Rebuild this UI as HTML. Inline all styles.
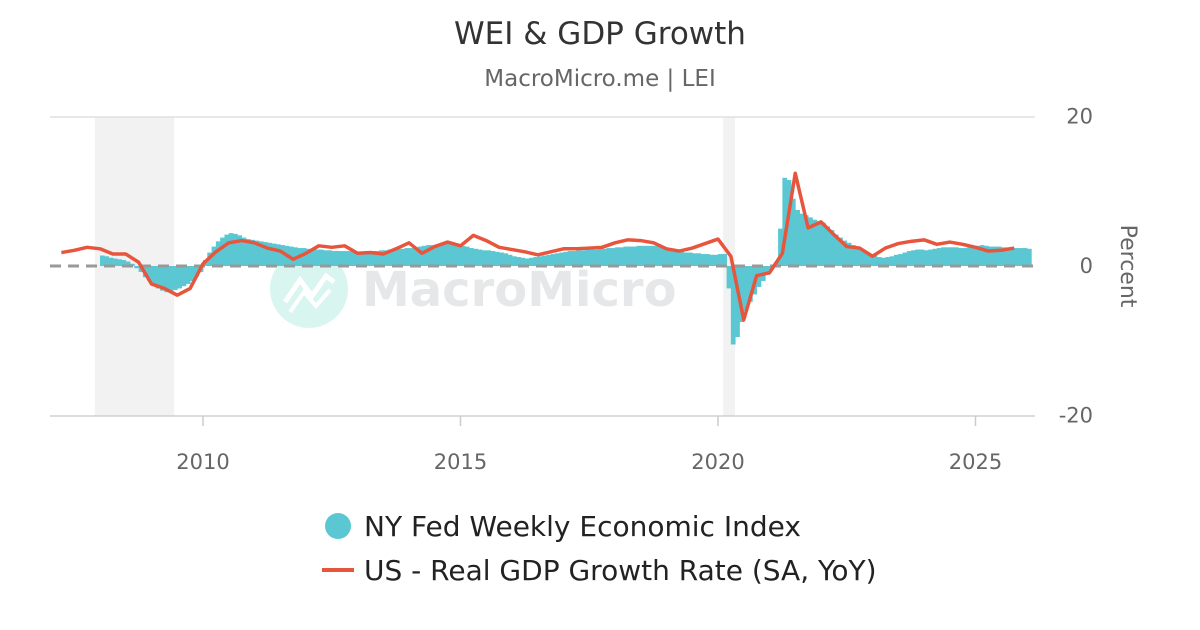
<!DOCTYPE html>
<html><head><meta charset="utf-8"><style>
body{margin:0;background:#fff;}
svg{display:block;font-family:"DejaVu Sans","Liberation Sans",sans-serif;}
</style></head><body>
<svg id="chart" width="1200" height="630" viewBox="0 0 1200 630">
<text x="600" y="44" text-anchor="middle" font-size="31" fill="#333">WEI &amp; GDP Growth</text>
<text x="600" y="86" text-anchor="middle" font-size="23" fill="#666">MacroMicro.me | LEI</text>
<g id="rec"></g>
<line x1="50" x2="1035" y1="117" y2="117" stroke="#e0e0e0" stroke-width="1.5"/>
<line x1="50" x2="1035" y1="416" y2="416" stroke="#d0d0d0" stroke-width="1.5"/>
<g>
<circle cx="309" cy="289" r="39" fill="#d8f6ef"/>
<polyline points="285,302 300,280 312,296 326,276 334,282" fill="none" stroke="#fff" stroke-width="5"/>
<polyline points="290,312 304,292 316,306 330,290" fill="none" stroke="#fff" stroke-width="4"/>
<text x="362" y="306" font-size="48" font-weight="bold" fill="#e6e7e8">MacroMicro</text>
</g>
<g id="bars"></g>
<line x1="50" x2="1035" y1="266" y2="266" stroke="#999" stroke-width="3" stroke-dasharray="11 7"/>
<polyline id="gdp" fill="none" stroke="#e8553d" stroke-width="3.5" stroke-linejoin="round"/>
<g id="xaxis"></g>
<g id="yaxis"></g>
<text transform="translate(1121,266) rotate(90)" text-anchor="middle" font-size="22" fill="#666">Percent</text>
<g>
<g><circle cx="338" cy="526" r="13" fill="#5bc7d3"/><text x="364" y="536" font-size="28" fill="#222">NY Fed Weekly Economic Index</text></g>
<g><line x1="322" x2="354" y1="570" y2="570" stroke="#e8553d" stroke-width="4"/><text x="364" y="580" font-size="28" fill="#222">US - Real GDP Growth Rate (SA, YoY)</text></g>
</g>
</svg>
<script>
const xTicks=[2010,2015,2020,2025];
const yTicks=[20,0,-20];
const recessions=[[2007.9,2009.44],[2020.1,2020.33]];
const gdpStart=2007.25;
const gdpValues=[1.8,2.1,2.5,2.3,1.6,1.6,0.5,-2.4,-3.0,-3.9,-3.0,0.3,1.9,3.1,3.4,3.1,2.4,2.0,0.9,1.7,2.7,2.5,2.7,1.7,1.8,1.6,2.3,3.1,1.7,2.6,3.2,2.7,4.1,3.4,2.5,2.2,1.9,1.5,1.9,2.3,2.3,2.4,2.5,3.1,3.5,3.4,3.1,2.3,2.0,2.4,3.0,3.6,1.3,-7.2,-1.3,-0.9,1.7,12.4,5.1,5.9,4.2,2.6,2.4,1.3,2.4,3.0,3.3,3.5,2.9,3.2,2.9,2.5,2.0,2.1,2.4];
const weiStart=2008.0;
const weiValues=[1.4,1.3,1.1,1.0,0.9,0.8,0.6,0.3,-0.3,-0.8,-1.5,-2.0,
-2.6,-3.0,-3.3,-3.5,-3.4,-3.2,-3.0,-2.7,-2.4,-2.0,-1.4,-0.8,
0.8,1.8,2.6,3.3,3.8,4.2,4.4,4.3,4.1,3.8,3.6,3.5,
3.4,3.3,3.2,3.1,3.0,2.9,2.8,2.7,2.6,2.5,2.4,2.4,
2.3,2.3,2.2,2.2,2.1,2.1,2.0,2.0,2.0,2.0,2.0,1.9,
1.9,1.9,2.0,2.0,2.0,2.1,2.1,2.2,2.2,2.3,2.3,2.4,
2.4,2.5,2.6,2.7,2.8,2.8,2.9,3.0,3.0,3.0,2.9,2.8,
2.7,2.6,2.4,2.3,2.2,2.1,2.1,2.0,1.9,1.8,1.7,1.5,
1.3,1.2,1.1,1.0,1.1,1.2,1.3,1.4,1.5,1.6,1.7,1.8,
1.9,2.0,2.0,2.1,2.1,2.2,2.2,2.2,2.3,2.3,2.4,2.4,
2.5,2.5,2.6,2.6,2.6,2.7,2.7,2.7,2.7,2.7,2.6,2.5,
2.3,2.1,2.0,1.9,1.8,1.8,1.7,1.7,1.6,1.6,1.5,1.5,
1.6,1.6,-3.0,-10.5,-9.5,-7.5,-6.0,-4.8,-3.8,-2.8,-2.0,-1.2,
-0.5,0.5,5.0,11.8,11.5,9.0,7.5,7.0,6.8,6.5,6.2,6.0,
5.8,5.3,4.8,4.2,3.8,3.4,3.1,2.8,2.5,2.2,1.9,1.6,
1.4,1.2,1.1,1.2,1.3,1.5,1.6,1.8,2.0,2.1,2.2,2.2,
2.1,2.2,2.3,2.4,2.5,2.5,2.5,2.5,2.4,2.4,2.5,2.6,
2.7,2.8,2.7,2.6,2.6,2.6,2.5,2.5,2.5,2.4,2.4,2.4,
2.3];
const NS='http://www.w3.org/2000/svg';
function X(t){return 203+(t-2010)*51.5;}
function Y(v){return 266-v*7.475;}
const rec=document.getElementById('rec');
recessions.forEach(r=>{const e=document.createElementNS(NS,'rect');


e.setAttribute('x',X(r[0]));e.setAttribute('width',X(r[1])-X(r[0]));e.setAttribute('y',117);e.setAttribute('height',299);e.setAttribute('fill','#f2f2f2');rec.appendChild(e);});
const bars=document.getElementById('bars');
const bw=51.5/12;
weiValues.forEach((v,i)=>{const e=document.createElementNS(NS,'rect');


const x=X(weiStart+i/12);e.setAttribute('x',x);e.setAttribute('width',bw+0.4);
e.setAttribute('y',Math.min(Y(v),Y(0)));e.setAttribute('height',Math.abs(Y(v)-Y(0)));e.setAttribute('fill','#5bc7d3');bars.appendChild(e);});
document.getElementById('gdp').setAttribute('points',gdpValues.map((v,i)=>X(gdpStart+i*0.25)+','+Y(v)).join(' '));
const xa=document.getElementById('xaxis');
xTicks.forEach(t=>{const l=document.createElementNS(NS,'line');


l.setAttribute('x1',X(t));l.setAttribute('x2',X(t));l.setAttribute('y1',416);l.setAttribute('y2',426);l.setAttribute('stroke','#ccc');l.setAttribute('stroke-width','1.5');xa.appendChild(l);
const s=document.createElementNS(NS,'text');


s.setAttribute('x',X(t));s.setAttribute('y',469);s.setAttribute('text-anchor','middle');s.setAttribute('font-size','21');s.setAttribute('fill','#666');s.textContent=t;xa.appendChild(s);});
const ya=document.getElementById('yaxis');
yTicks.forEach(v=>{const s=document.createElementNS(NS,'text');


s.setAttribute('x',1093);s.setAttribute('y',Y(v)+7);s.setAttribute('text-anchor','end');s.setAttribute('font-size','21');s.setAttribute('fill','#666');s.textContent=v;ya.appendChild(s);});
</script>
</body></html>
